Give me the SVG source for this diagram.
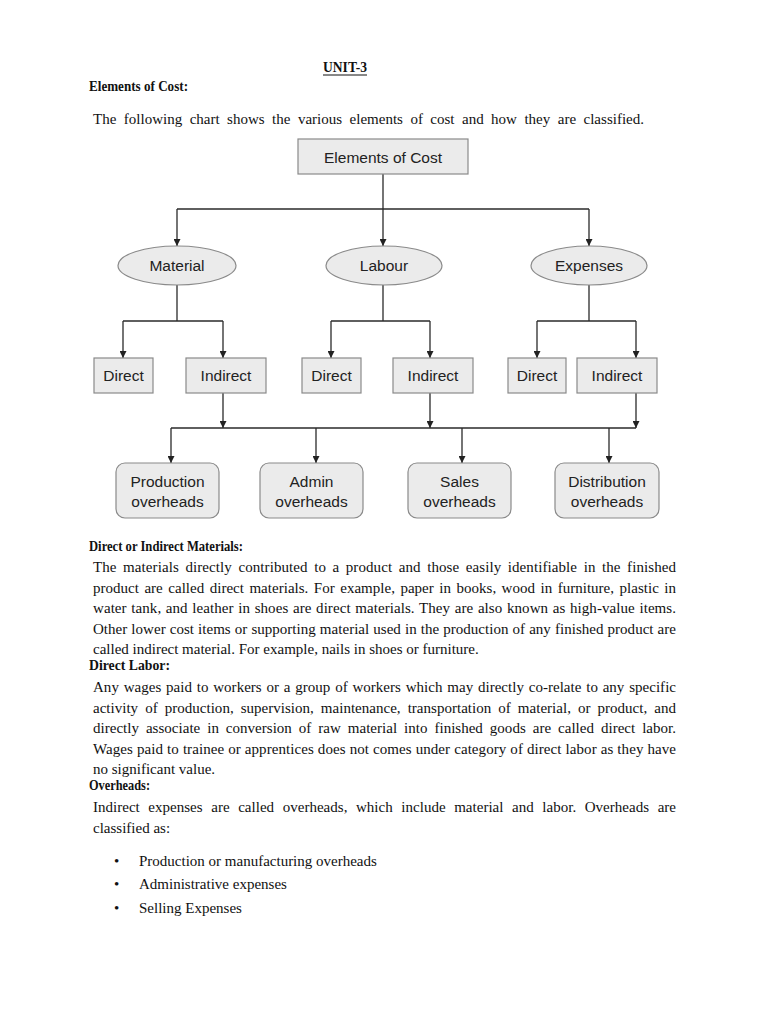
<svg xmlns="http://www.w3.org/2000/svg" width="768" height="1024" viewBox="0 0 768 1024">
<defs>
<marker id="ah" viewBox="0 0 10 10" refX="10" refY="5" markerWidth="7" markerHeight="7" markerUnits="userSpaceOnUse" orient="auto">
<path d="M0,0 L10,5 L0,10 z" fill="#222"/>
</marker>
<style>
.nb{fill:#ebebeb;stroke:#8a8a8a;stroke-width:1.2}
.nt{font-family:"Liberation Sans",Arial,sans-serif;font-size:15.5px;fill:#222;text-anchor:middle}
.c{fill:none;stroke:#2a2a2a;stroke-width:1.3}
.a{fill:none;stroke:#2a2a2a;stroke-width:1.3;marker-end:url(#ah)}
.b{font-family:"Liberation Serif","Times New Roman",serif;font-size:15px;fill:#111}
.h{font-family:"Liberation Serif","Times New Roman",serif;font-size:14.5px;font-weight:bold;fill:#111}
</style>
</defs>
<rect width="768" height="1024" fill="#fff"/>

<g id="page-text">
<text class="h" x="323" y="72" font-size="14" textLength="44" lengthAdjust="spacingAndGlyphs">UNIT-3</text>
<line x1="323" y1="75" x2="367" y2="75" stroke="#111" stroke-width="1"/>
<text class="h" x="89" y="91" font-size="14" textLength="99" lengthAdjust="spacingAndGlyphs">Elements of Cost:</text>
<text class="b" x="93" y="124" word-spacing="3.7" textLength="551" lengthAdjust="spacing">The following chart shows the various elements of cost and how they are classified.</text>
</g>

<g id="connectors">
<line class="c" x1="383" y1="174" x2="383" y2="209"/>
<line class="c" x1="177" y1="209" x2="589" y2="209"/>
<line class="a" x1="177" y1="209" x2="177" y2="246"/>
<line class="a" x1="383" y1="209" x2="383" y2="246"/>
<line class="a" x1="589" y1="209" x2="589" y2="246"/>

<line class="c" x1="177" y1="285" x2="177" y2="321"/>
<line class="c" x1="123" y1="321" x2="223" y2="321"/>
<line class="a" x1="123" y1="321" x2="123" y2="358"/>
<line class="a" x1="223" y1="321" x2="223" y2="358"/>

<line class="c" x1="383" y1="285" x2="383" y2="321"/>
<line class="c" x1="331" y1="321" x2="430" y2="321"/>
<line class="a" x1="331" y1="321" x2="331" y2="358"/>
<line class="a" x1="430" y1="321" x2="430" y2="358"/>

<line class="c" x1="589" y1="285" x2="589" y2="321"/>
<line class="c" x1="537" y1="321" x2="636" y2="321"/>
<line class="a" x1="537" y1="321" x2="537" y2="358"/>
<line class="a" x1="636" y1="321" x2="636" y2="358"/>

<line class="a" x1="223" y1="393" x2="223" y2="428"/>
<line class="a" x1="430" y1="393" x2="430" y2="428"/>
<line class="a" x1="636" y1="393" x2="636" y2="428"/>
<line class="c" x1="171" y1="428" x2="636" y2="428"/>
<line class="a" x1="171" y1="428" x2="171" y2="463"/>
<line class="a" x1="316" y1="428" x2="316" y2="463"/>
<line class="a" x1="462" y1="428" x2="462" y2="463"/>
<line class="a" x1="609" y1="428" x2="609" y2="463"/>
</g>

<g id="elements-of-cost"><rect class="nb" x="298" y="139" width="170" height="35"/><text class="nt" x="383" y="163">Elements of Cost</text></g>

<g id="material"><ellipse class="nb" cx="177" cy="265.5" rx="59" ry="19.5"/><text class="nt" x="177" y="271">Material</text></g>
<g id="labour"><ellipse class="nb" cx="384" cy="265.5" rx="58" ry="19.5"/><text class="nt" x="384" y="271">Labour</text></g>
<g id="expenses"><ellipse class="nb" cx="589" cy="265.5" rx="58" ry="19.5"/><text class="nt" x="589" y="271">Expenses</text></g>

<g id="material-direct"><rect class="nb" x="94" y="358" width="59" height="35"/><text class="nt" x="123.5" y="381">Direct</text></g>
<g id="material-indirect"><rect class="nb" x="186" y="358" width="80" height="35"/><text class="nt" x="226" y="381">Indirect</text></g>
<g id="labour-direct"><rect class="nb" x="302" y="358" width="59" height="35"/><text class="nt" x="331.5" y="381">Direct</text></g>
<g id="labour-indirect"><rect class="nb" x="393" y="358" width="80" height="35"/><text class="nt" x="433" y="381">Indirect</text></g>
<g id="expenses-direct"><rect class="nb" x="508" y="358" width="58" height="35"/><text class="nt" x="537" y="381">Direct</text></g>
<g id="expenses-indirect"><rect class="nb" x="577" y="358" width="80" height="35"/><text class="nt" x="617" y="381">Indirect</text></g>

<g id="production-overheads"><rect class="nb" x="116" y="463" width="103" height="55" rx="9"/><text class="nt" x="167.5" y="487">Production</text><text class="nt" x="167.5" y="507">overheads</text></g>
<g id="admin-overheads"><rect class="nb" x="260" y="463" width="103" height="55" rx="9"/><text class="nt" x="311.5" y="487">Admin</text><text class="nt" x="311.5" y="507">overheads</text></g>
<g id="sales-overheads"><rect class="nb" x="408" y="463" width="103" height="55" rx="9"/><text class="nt" x="459.5" y="487">Sales</text><text class="nt" x="459.5" y="507">overheads</text></g>
<g id="distribution-overheads"><rect class="nb" x="555" y="463" width="104" height="55" rx="9"/><text class="nt" x="607" y="487">Distribution</text><text class="nt" x="607" y="507">overheads</text></g>

<g id="body-text">
<text class="h" x="89" y="551" textLength="154" lengthAdjust="spacingAndGlyphs">Direct or Indirect Materials:</text>
<text class="b" x="93" y="572" word-spacing="2.7" textLength="583" lengthAdjust="spacing">The materials directly contributed to a product and those easily identifiable in the finished</text>
<text class="b" x="93" y="592.5" word-spacing="1.7" textLength="583" lengthAdjust="spacing">product are called direct materials. For example, paper in books, wood in furniture, plastic in</text>
<text class="b" x="93" y="613" word-spacing="0.8" textLength="583" lengthAdjust="spacing">water tank, and leather in shoes are direct materials. They are also known as high-value items.</text>
<text class="b" x="93" y="633.5" word-spacing="0.3" textLength="583" lengthAdjust="spacing">Other lower cost items or supporting material used in the production of any finished product are</text>
<text class="b" x="93" y="654">called indirect material. For example, nails in shoes or furniture.</text>

<text class="h" x="89" y="670" textLength="81" lengthAdjust="spacingAndGlyphs">Direct Labor:</text>
<text class="b" x="93" y="692" word-spacing="1.0" textLength="583" lengthAdjust="spacing">Any wages paid to workers or a group of workers which may directly co-relate to any specific</text>
<text class="b" x="93" y="712.5" word-spacing="3.3" textLength="583" lengthAdjust="spacing">activity of production, supervision, maintenance, transportation of material, or product, and</text>
<text class="b" x="93" y="733" word-spacing="3.2" textLength="583" lengthAdjust="spacing">directly associate in conversion of raw material into finished goods are called direct labor.</text>
<text class="b" x="93" y="753.5" word-spacing="0.2" textLength="583" lengthAdjust="spacing">Wages paid to trainee or apprentices does not comes under category of direct labor as they have</text>
<text class="b" x="93" y="774">no significant value.</text>

<text class="h" x="89" y="790" textLength="61" lengthAdjust="spacingAndGlyphs">Overheads:</text>
<text class="b" x="93" y="812" word-spacing="4.8" textLength="583" lengthAdjust="spacing">Indirect expenses are called overheads, which include material and labor. Overheads are</text>
<text class="b" x="93" y="833">classified as:</text>

<text class="b" x="114" y="866">•</text><text class="b" x="139" y="866">Production or manufacturing overheads</text>
<text class="b" x="114" y="889">•</text><text class="b" x="139" y="889">Administrative expenses</text>
<text class="b" x="114" y="913">•</text><text class="b" x="139" y="913">Selling Expenses</text>
</g>
</svg>
